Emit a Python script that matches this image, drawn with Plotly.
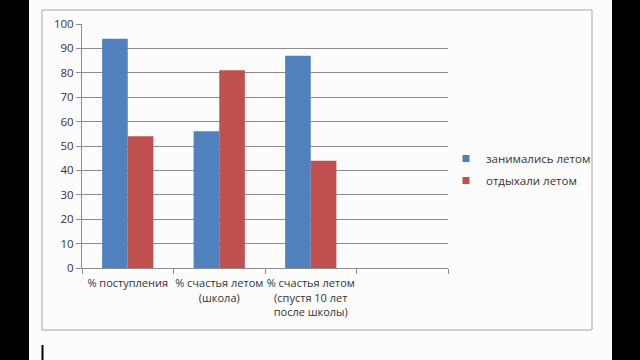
import plotly.graph_objects as go

categories = ["% поступления", "% счастья летом<br>(школа)",
              "% счастья летом<br>(спустя 10 лет<br>после школы)", " "]
series_names = ["занимались летом", "отдыхали летом"]
zanimalis = [94, 56, 87]
otdyhali = [54, 81, 44]
colors = ["#4F81BD", "#C0504D"]
y_ticks = list(range(0, 101, 10))

W, H = 640, 360
L, R, T, B = 82, 192, 24, 92
pw, ph = W - L - R, H - T - B


def px(x):
    return (x - L) / pw


def py(y):
    return (H - B - y) / ph


fig = go.Figure()
for name, vals, c in zip(series_names, [zanimalis, otdyhali], colors):
    fig.add_trace(go.Bar(x=categories[:3], y=vals, name=name, marker_color=c,
                         marker_line_width=0, showlegend=False))
for name, c in zip(series_names, colors):
    fig.add_trace(go.Scatter(x=[None], y=[None], mode="markers", name=name,
                             marker=dict(symbol="square", size=7, color=c),
                             legendgroup=name))

font = dict(family="Open Sans, Liberation Sans, sans-serif", size=11, color="#333333")
fig.update_layout(
    width=W, height=H, margin=dict(l=L, r=R, t=T, b=B),
    paper_bgcolor="#fcfcfc", plot_bgcolor="#fcfcfc", font=font,
    barmode="group", bargap=0.44, bargroupgap=0,
    showlegend=True,
    legend=dict(x=px(446), y=py(144), xanchor="left", yanchor="top",
                bgcolor="rgba(0,0,0,0)", font=dict(size=11.5),
                traceorder="grouped", tracegroupgap=3, itemwidth=30),
    xaxis=dict(categoryorder="array", categoryarray=categories, range=[-0.5, 3.5],
               showline=True, linecolor="#8c8c8c", linewidth=1,
               ticks="outside", tickson="boundaries", ticklen=5, tickcolor="#8c8c8c",
               ticklabelstandoff=5,
               showgrid=False, tickangle=0, fixedrange=True, automargin=False),
    yaxis=dict(range=[0, 100], tickvals=y_ticks, showline=True, linecolor="#8c8c8c",
               linewidth=1, ticks="outside", ticklen=5, tickcolor="#8c8c8c",
               showgrid=True, gridcolor="#8c8c8c", gridwidth=1, zeroline=False,
               fixedrange=True, automargin=False, tickfont=dict(size=11.5)),
    shapes=[
        dict(type="rect", xref="paper", yref="paper", x0=px(0), x1=px(29), y0=py(0), y1=py(360),
             fillcolor="black", line_width=0, layer="above"),
        dict(type="rect", xref="paper", yref="paper", x0=px(612), x1=px(640), y0=py(0), y1=py(360),
             fillcolor="black", line_width=0, layer="above"),
        dict(type="rect", xref="paper", yref="paper", x0=px(42), x1=px(592), y0=py(10), y1=py(330),
             line=dict(color="#a6a6a6", width=1), fillcolor="rgba(0,0,0,0)", layer="below"),
        dict(type="line", xref="paper", yref="paper", x0=px(42.5), x1=px(42.5), y0=py(345), y1=py(360),
             line=dict(color="black", width=2)),
    ],
)

fig.write_html("out.html", config={"displayModeBar": False},
               post_script="document.body.style.margin='0';document.body.style.overflow='hidden';")
